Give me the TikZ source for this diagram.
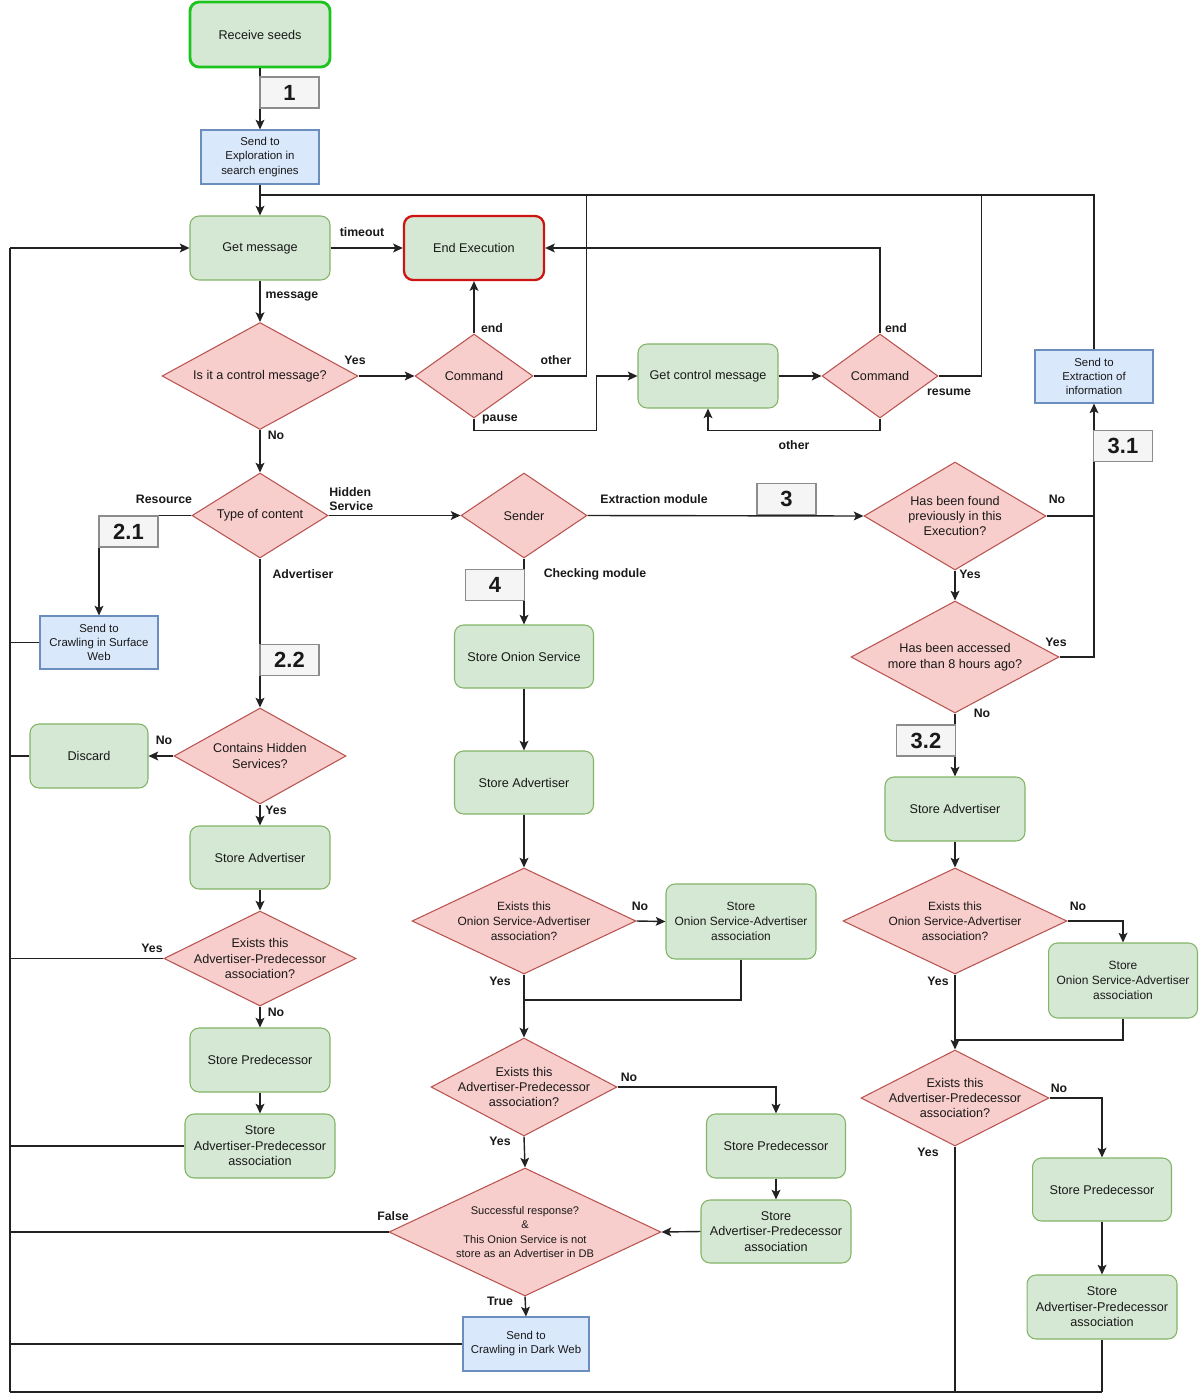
\documentclass[tikz,border=0pt]{standalone}
\usepackage{fontspec}
\setmainfont{Liberation Sans}
\usetikzlibrary{shapes.geometric,arrows.meta,calc}
\definecolor{gF}{HTML}{D5E8D4}
\definecolor{gD}{HTML}{82B366}
\definecolor{rF}{HTML}{F8CECC}
\definecolor{rD}{HTML}{B85450}
\definecolor{bF}{HTML}{DAE8FC}
\definecolor{bD}{HTML}{6C8EBF}
\definecolor{nF}{HTML}{F5F5F5}
\definecolor{nD}{HTML}{8C8C8C}
\definecolor{lineC}{HTML}{222222}
\definecolor{seedC}{HTML}{1DC41D}
\definecolor{endC}{HTML}{CC1414}
\begin{document}
\begin{tikzpicture}[x=0.02cm,y=-0.02cm,
 every node/.style={text=black!90},
 proc/.style={rectangle, rounded corners=0.18cm, fill=gF, draw=gD, line width=0.6pt, align=center, inner sep=0pt, font=\fontsize{7.2}{8.8}\selectfont},
 sendbox/.style={rectangle, fill=bF, draw=bD, line width=0.6pt, align=center, inner sep=0pt, font=\fontsize{6.5}{8}\selectfont},
 dec/.style={diamond, fill=rF, draw=rD, line width=0.6pt, inner sep=0pt},
 dt/.style={align=center, inner sep=0pt, font=\fontsize{7.2}{8.8}\selectfont},
 lbl/.style={inner sep=0pt, align=center, font=\bfseries\fontsize{7}{8.4}\selectfont},
 num/.style={rectangle, fill=nF, draw=nD, line width=0.6pt, minimum width=1.18cm, minimum height=0.62cm, inner sep=0pt, font=\bfseries\fontsize{12.5}{14}\selectfont},
 ln/.style={draw=lineC, line width=0.8pt},
 arr/.style={ln, -{Stealth[length=5.5pt,width=5pt,inset=1.2pt]}}
]
\useasboundingbox (0,0) rectangle (1200,1396);

% ---------- nodes ----------
\node[proc, draw=seedC, line width=1.6pt, minimum width=2.8cm, minimum height=1.3cm] (seeds) at (260,34.5) {Receive seeds};
\node[sendbox, minimum width=2.36cm, minimum height=1.08cm] (explore) at (260,157) {Send to\\Exploration in\\search engines};
\node[proc, minimum width=2.8cm, minimum height=1.28cm] (getmsg) at (260,248) {Get message};
\node[proc, draw=endC, line width=1.3pt, minimum width=2.8cm, minimum height=1.28cm] (endx) at (474,248) {End Execution};
\node[dec, minimum width=3.92cm, minimum height=2.14cm, label={[dt,name=ctrlT]center:Is it a control message?}] (ctrl) at (260,376) {};
\node[dec, minimum width=2.36cm, minimum height=1.68cm, label={[dt,name=cmd1T]center:Command}] (cmd1) at (474,376) {};
\node[proc, minimum width=2.8cm, minimum height=1.28cm] (gcm) at (708,376) {Get control message};
\node[dec, minimum width=2.32cm, minimum height=1.68cm, label={[dt,name=cmd2T]center:Command}] (cmd2) at (880,376) {};
\node[sendbox, minimum width=2.36cm, minimum height=1.06cm] (extract) at (1094,376.5) {Send to\\Extraction of\\information};

\node[dec, minimum width=2.72cm, minimum height=1.7cm, label={[dt,name=typeT]center:Type of content}] (type) at (260,515.5) {};
\node[dec, minimum width=2.52cm, minimum height=1.7cm, label={[dt,name=senderT]center:Sender}] (sender) at (524,515.5) {};
\node[dec, minimum width=3.64cm, minimum height=2.16cm, label={[dt,name=foundT]center:Has been found\\previously in this\\Execution?}] (found) at (955,516) {};
\node[sendbox, minimum width=2.36cm, minimum height=1.06cm] (surf) at (99,642.5) {Send to\\Crawling in Surface\\Web};
\node[dec, minimum width=4.16cm, minimum height=2.24cm, label={[dt,name=accT]center:Has been accessed\\more than 8 hours ago?}] (accessed) at (955,657) {};
\node[proc, minimum width=2.78cm, minimum height=1.26cm] (onion) at (524,656.5) {Store Onion Service};
\node[dec, minimum width=3.44cm, minimum height=1.92cm, label={[dt,name=contT]center:Contains Hidden\\Services?}] (contains) at (260,756) {};
\node[proc, minimum width=2.36cm, minimum height=1.28cm] (discard) at (89,756) {Discard};
\node[proc, minimum width=2.78cm, minimum height=1.26cm] (advM) at (524,782.5) {Store Advertiser};
\node[proc, minimum width=2.8cm, minimum height=1.28cm] (advR) at (955,809) {Store Advertiser};
\node[proc, minimum width=2.8cm, minimum height=1.26cm] (advL) at (260,857.5) {Store Advertiser};

\node[dec, minimum width=4.48cm, minimum height=2.12cm, label={[dt,name=osaMT,font=\fontsize{6.8}{8.4}\selectfont]center:Exists this\\Onion Service-Advertiser\\association?}] (osaM) at (524,921) {};
\node[proc, font=\fontsize{6.8}{8.4}\selectfont, minimum width=3.0cm, minimum height=1.5cm] (osasM) at (741,921.5) {Store\\Onion Service-Advertiser\\association};
\node[dec, minimum width=4.48cm, minimum height=2.12cm, label={[dt,name=osaRT,font=\fontsize{6.8}{8.4}\selectfont]center:Exists this\\Onion Service-Advertiser\\association?}] (osaR) at (955,921) {};
\node[proc, font=\fontsize{6.8}{8.4}\selectfont, minimum width=2.98cm, minimum height=1.5cm] (osasR) at (1123,980.5) {Store\\Onion Service-Advertiser\\association};
\node[dec, minimum width=3.84cm, minimum height=1.9cm, label={[dt,name=apLT]center:Exists this\\Advertiser-Predecessor\\association?}] (apL) at (260,958.5) {};
\node[proc, minimum width=2.8cm, minimum height=1.28cm] (predL) at (260,1060) {Store Predecessor};
\node[dec, minimum width=3.72cm, minimum height=1.96cm, label={[dt,name=apMT]center:Exists this\\Advertiser-Predecessor\\association?}] (apM) at (524,1087) {};
\node[dec, minimum width=3.76cm, minimum height=1.92cm, label={[dt,name=apRT]center:Exists this\\Advertiser-Predecessor\\association?}] (apR) at (955,1098) {};
\node[proc, minimum width=3.0cm, minimum height=1.28cm] (apaL) at (260,1146) {Store\\Advertiser-Predecessor\\association};
\node[proc, minimum width=2.78cm, minimum height=1.28cm] (predM) at (776,1146) {Store Predecessor};
\node[proc, minimum width=2.78cm, minimum height=1.26cm] (predR) at (1102,1189.5) {Store Predecessor};
\node[dec, minimum width=5.44cm, minimum height=2.56cm, label={[dt,name=succT,font=\fontsize{6.3}{8}\selectfont]center:Successful response?\\\&\\This Onion Service is not\\store as an Advertiser in DB}] (succ) at (525,1232) {};
\node[proc, minimum width=3.0cm, minimum height=1.26cm] (apaM) at (776,1231.5) {Store\\Advertiser-Predecessor\\association};
\node[proc, minimum width=3.0cm, minimum height=1.28cm] (apaR) at (1102,1307) {Store\\Advertiser-Predecessor\\association};
\node[sendbox, minimum width=2.52cm, minimum height=1.08cm] (dark) at (526,1344) {Send to\\Crawling in Dark Web};

% ---------- coordinates ----------
\coordinate (tl) at (260,195);
\coordinate (busTop) at (10,248);
\coordinate (busBot) at (10,1392);
\coordinate (mergeM) at (524,1000);
\coordinate (mergeR) at (955,1040);

% ---------- connectors ----------
\draw[arr] (seeds) -- (explore);
\draw[arr] (explore) -- (getmsg);
\draw[ln] (cmd1.east) -- ++(53,0) |- (tl);
\draw[ln] (cmd2.east) -- ++(43,0) |- (tl);
\draw[ln] (extract.north) |- (tl);
\draw[arr] (getmsg.east) -- (endx.west);
\draw[arr] (cmd1.north) -- (endx.south);
\draw[arr] (cmd2.north) |- (endx.east);
\draw[arr] (getmsg.south) -- (ctrl.north);
\draw[arr] (ctrl.east) -- (cmd1.west);
\draw[arr] (cmd1.south) -- ++(0,12) -| ($(gcm.west)+(-41,0)$) -- (gcm.west);
\draw[arr] (gcm.east) -- (cmd2.west);
\draw[arr] (cmd2.south) -- ++(0,12) -| (gcm.south);
\draw[arr] (ctrl.south) -- (type.north);
\draw[arr] (type.west) -| (surf.north);
\draw[arr] (type.east) -- (sender.west);
\draw[arr] (type.south) -- (contains.north);
\draw[arr] (contains.west) -- (discard.east);
\draw[arr] (contains.south) -- (advL.north);
\draw[arr] (advL.south) -- (apL.north);
\draw[arr] (apL.south) -- (predL.north);
\draw[arr] (predL.south) -- (apaL.north);

% left bus
\draw[ln, line width=1pt] (busBot) -- (busTop);
\draw[arr] (busTop) -- (getmsg.west);
\draw[ln] (surf.west) -- (surf.west -| busBot);
\draw[ln] (discard.west) -- (discard.west -| busBot);
\draw[ln] (apL.west) -- (apL.west -| busBot);
\draw[ln] (apaL.west) -- (apaL.west -| busBot);
\draw[ln] (succ.west) -- (succ.west -| busBot);
\draw[ln] (dark.west) -- (dark.west -| busBot);
\draw[ln] (busBot) -- (busBot -| apaR.south);
\draw[ln] (apR.south) -- (apR.south |- busBot);
\draw[ln] (apaR.south) -- (apaR.south |- busBot);

% middle column
\draw[arr] (sender.east) -- (found.west);
\draw[arr] (sender.south) -- (onion.north);
\draw[arr] (onion.south) -- (advM.north);
\draw[arr] (advM.south) -- (osaM.north);
\draw[arr] (osaM.east) -- (osasM.west);
\draw[arr] (osaM.south) -- (apM.north);
\draw[ln] (osasM.south) |- (mergeM);
\draw[arr] (apM.east) -| (predM.north);
\draw[arr] (predM.south) -- (apaM.north);
\draw[arr] (apaM.west) -- (succ.east);
\draw[arr] (apM.south) -- (succ.north);
\draw[arr] (succ.south) -- (dark.north);

% right column
\draw[ln] (found.east) -- (found.east -| extract.south);
\draw[arr] (accessed.east) -| (extract.south);
\draw[arr] (found.south) -- (accessed.north);
\draw[arr] (accessed.south) -- (advR.north);
\draw[arr] (advR.south) -- (osaR.north);
\draw[arr] (osaR.east) -| (osasR.north);
\draw[arr] (osaR.south) -- (apR.north);
\draw[ln] (osasR.south) |- (mergeR);
\draw[arr] (apR.east) -| (predR.north);
\draw[arr] (predR.south) -- (apaR.north);

% ---------- number boxes ----------
\node[num] (n1) at (289.5,92.5) {1};
\node[num] (n21) at (128.5,531.5) {2.1};
\node[num] (n22) at (289.5,660) {2.2};
\node[num] (n3) at (786.5,499) {3};
\node[num] (n4) at (495,585) {4};
\node[num] (n31) at (1123,446) {3.1};
\node[num] (n32) at (926,740.5) {3.2};

% ---------- edge labels ----------
\node[lbl] (l1) at (362,232) {timeout};
\node[lbl] (l2) at (292,296) {message};
\node[lbl] (l3) at (355,360) {Yes};
\node[lbl] (l4) at (492,328) {end};
\node[lbl] (l5) at (556,360) {other};
\node[lbl] (l6) at (500,419) {pause};
\node[lbl] (l7) at (896,328) {end};
\node[lbl] (l8) at (949,392) {resume};
\node[lbl] (l9) at (794,445) {other};
\node[lbl] (l10) at (276,435) {No};
\node[lbl] (l11) at (164,499) {Resource};
\node[lbl, align=left, anchor=west] (l12) at (329,499) {Hidden\\Service};
\node[lbl] (l13) at (303,574) {Advertiser};
\node[lbl] (l14) at (654,499) {Extraction module};
\node[lbl] (l15) at (595,574) {Checking module};
\node[lbl] (l16) at (1057,499) {No};
\node[lbl] (l17) at (970,574) {Yes};
\node[lbl] (l18) at (1056,642) {Yes};
\node[lbl] (l19) at (982,713) {No};
\node[lbl] (l20) at (164,740) {No};
\node[lbl] (l21) at (276,810) {Yes};
\node[lbl] (l22) at (152,948) {Yes};
\node[lbl] (l23) at (276,1012) {No};
\node[lbl] (l24) at (640,906) {No};
\node[lbl] (l25) at (500,981) {Yes};
\node[lbl] (l26) at (629,1077) {No};
\node[lbl] (l27) at (500,1141) {Yes};
\node[lbl] (l28) at (393,1216) {False};
\node[lbl] (l29) at (500,1301) {True};
\node[lbl] (l30) at (1078,906) {No};
\node[lbl] (l31) at (938,981) {Yes};
\node[lbl] (l32) at (1059,1088) {No};
\node[lbl] (l33) at (928,1152) {Yes};
\end{tikzpicture}
\end{document}
